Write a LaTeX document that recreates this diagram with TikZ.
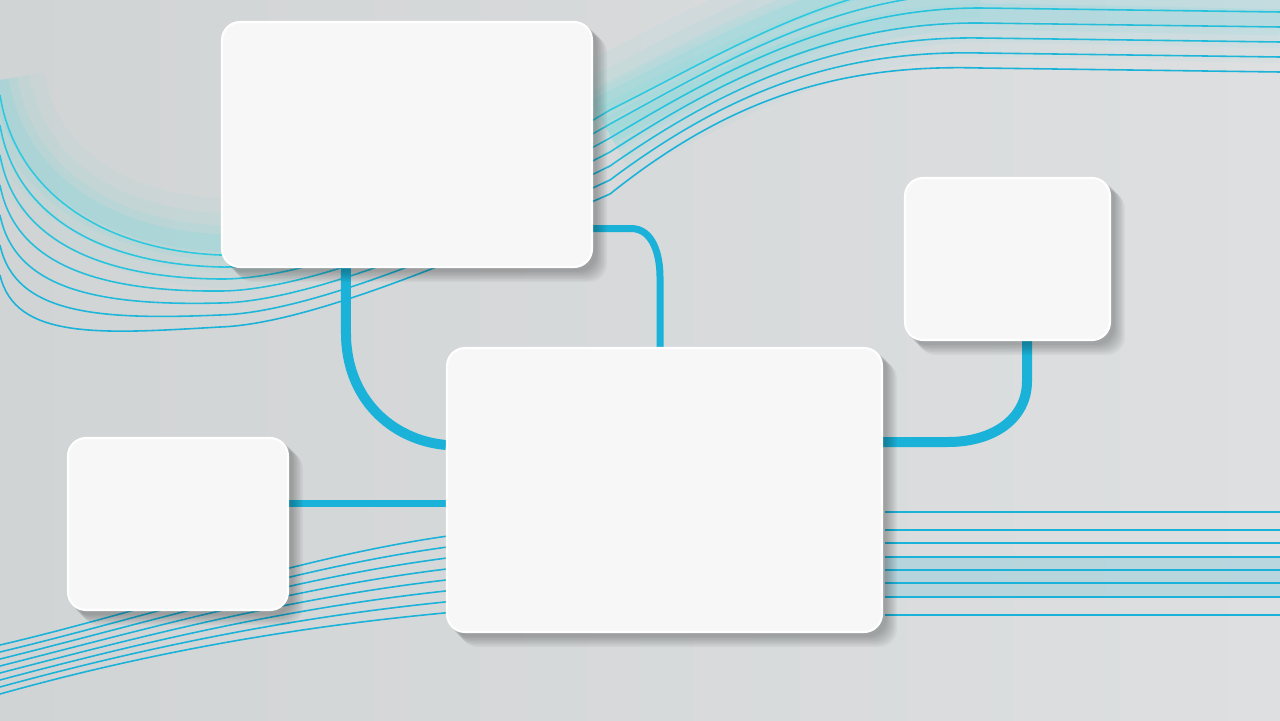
\documentclass[tikz,border=0pt]{standalone}
\usetikzlibrary{calc}
\definecolor{bgA}{HTML}{D1D4D5}
\definecolor{bgB}{HTML}{DDDFE0}
\definecolor{cyanline}{HTML}{1AB2D8}
\definecolor{cyanglow}{HTML}{3AD9E3}
\definecolor{cardfill}{HTML}{F7F7F7}
\pgfdeclarelayer{lines}
\pgfdeclarelayer{shadow}
\pgfsetlayers{lines,shadow,main}
\tikzset{
  card/.style={draw=white, line width=1.2pt, fill=cardfill, rounded corners=0.36cm, inner sep=0pt},
  bundle/.style={draw=cyanline, line width=0.9pt},
  conn/.style={draw=cyanline, line width=0.2cm},
  connthin/.style={draw=cyanline, line width=0.14cm},
}
\begin{document}
\begin{tikzpicture}[x=0.02cm,y=-0.02cm]
\useasboundingbox (0,0) rectangle (1280,720);
% cards
\node[card, minimum width=7.4cm, minimum height=4.9cm] (top) at (407,144.5) {};
\node[card, minimum width=4.1cm, minimum height=3.24cm] (rbox) at (1007.5,259) {};
\node[card, minimum width=8.7cm, minimum height=5.68cm] (mid) at (664.5,490) {};
\node[card, minimum width=4.4cm, minimum height=3.44cm] (lbox) at (178,524) {};

\begin{pgfonlayer}{lines}
  \fill[left color=bgA, right color=bgB] (0,0) rectangle (1280,720);
  % soft halo on the inner side of the upper bundle
  \foreach \w/\o in {1.8cm/0.04, 1.2cm/0.05, 0.7cm/0.07, 0.35cm/0.1} {
    \draw[cyanglow, line width=\w, opacity=\o]
      (0,80) .. controls (15,175) and (100,238) .. (220,243)
      .. controls (300,246) and (470,185) .. (610,100)
      .. controls (730,40) and (840,-25) .. (980,-27);
    \draw[cyanglow, line width=\w, opacity=\o]
      (610,135) .. controls (730,70) and (840,15) .. (980,12) -- (1280,18);
  }
  % upper bundle
  \foreach \t in {0,...,6} {
    \draw[bundle, draw=cyanline!\the\numexpr 100-10*(6-\t)\relax!cyanglow]
      (0,{95+30*\t}) .. controls (15,{190+25*\t}) and (100,{250+14*\t}) .. (220,{255+12*\t})
      .. controls (310,{258+11*\t}) and (470,{195+10*\t}) .. (610,{110+14*\t})
      .. controls (730,{50+8*\t}) and (840,{-20+14*\t}) .. (980,{-22+15*\t})
      -- (1280,{-18+15*\t});
  }
  % lower-left bundle
  \foreach \t in {0,...,7} {
    \draw[bundle] (0,{645+7*\t}) .. controls (150,{610+6*\t}) and (300,{556+10*\t}) .. (455,{535+11*\t});
  }
  % lower-right lines
  \fill[cyanline, opacity=0.18] (885,557) rectangle (1280,597);
  \foreach \y in {512,530,543,557,570,583,597,615} {
    \draw[bundle] (885,\y) -- (1280,\y);
  }
  % connectors
  \draw[conn] ($(top.south west)+(125,0)$) -- ++(0,65)
     .. controls +(0,65) and +(-55,-5) .. ($(mid.west)+(0,-45)$);
  \draw[connthin] ($(top.east)+(0,84)$) -- ++(38,0)
     .. controls +(22,0) and +(0,-22) .. ($(mid.north)+(-4.5,-70)$) -- ($(mid.north)+(-4.5,0)$);
  \draw[conn] ($(rbox.south)+(19.5,0)$) -- ++(0,40)
     .. controls +(0,38) and +(45,0) .. ($(mid.east)+(65,-48)$) -- ($(mid.east)+(0,-48)$);
  \draw[connthin] ($(lbox.east)+(0,-21)$) -- ($(mid.west)+(0,13)$);
\end{pgfonlayer}

\begin{pgfonlayer}{shadow}
  \foreach \n in {top,rbox,mid,lbox} {
    \foreach \k in {1,...,8} {
      \fill[black, opacity=0.035, rounded corners=0.36cm]
        ($(\n.north west)+({2+1.5*\k},{2+1.5*\k})$) rectangle ($(\n.south east)+({2+1.5*\k},{2+1.5*\k})$);
    }
  }
\end{pgfonlayer}
\end{tikzpicture}
\end{document}
